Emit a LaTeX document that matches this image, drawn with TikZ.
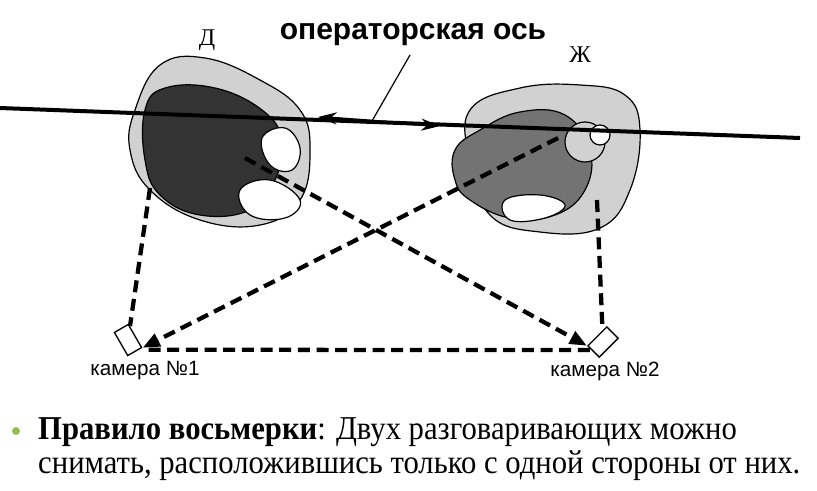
\documentclass[tikz,border=0pt]{standalone}
\usepackage{fontspec}
\setmainfont{Liberation Serif}
\setsansfont{Liberation Sans}
\usetikzlibrary{arrows.meta}
\definecolor{lgray}{gray}{0.82}
\definecolor{mgray}{gray}{0.45}
\definecolor{dgray}{gray}{0.2}
\definecolor{bulletgreen}{RGB}{150,190,80}
\tikzset{
  dash line/.style={line width=3.2pt, dash pattern=on 9pt off 5pt},
  blob/.style={draw=black, line width=0.9pt},
  cam/.style={draw=black, fill=white, line width=1pt, minimum width=20pt, minimum height=12pt, inner sep=0pt},
  caplabel/.style={font=\sffamily\fontsize{15.5}{18}\selectfont},
}
\begin{document}
\begin{tikzpicture}[x=0.75pt,y=-0.75pt]
\useasboundingbox (0,0) rectangle (817,490);
\fill[white] (0,0) rectangle (817,490);
% person D
\draw[blob, fill=lgray] plot[smooth cycle, tension=0.7] coordinates {(135,110) (160,65) (205,58) (260,80) (300,110) (310,150) (300,200) (260,225) (200,220) (150,190) (130,150)};
\draw[blob, fill=dgray] plot[smooth cycle, tension=0.7] coordinates {(145,110) (165,88) (215,88) (262,110) (282,140) (275,180) (250,210) (200,215) (160,195) (145,160)};
\draw[blob, fill=white] plot[smooth cycle, tension=0.7] coordinates {(262,138) (285,128) (300,148) (292,170) (270,165)};
\draw[blob, fill=white] plot[smooth cycle, tension=0.7] coordinates {(240,190) (270,180) (300,200) (285,218) (250,215)};
% person Zh
\draw[blob, fill=lgray] plot[smooth cycle, tension=0.7] coordinates {(470,110) (520,88) (580,85) (625,95) (640,130) (630,190) (600,228) (540,232) (490,215) (470,160)};
\draw[blob, fill=mgray] plot[smooth cycle, tension=0.7] coordinates {(455,150) (480,130) (520,112) (565,115) (590,150) (585,190) (555,215) (510,218) (470,200) (455,180)};
\draw[blob, fill=lgray] (585,142) circle (20);
\draw[blob, fill=white] (600,135) circle (10);
\draw[blob, fill=white] plot[smooth cycle, tension=0.7] coordinates {(505,200) (540,195) (565,205) (545,218) (510,220)};
% cameras
\node[cam, rotate=-60] (c1) at (128,340) {};
\node[cam, rotate=45] (c2) at (603,342) {};
\coordinate (d1) at (150,188);
\coordinate (d2) at (245,158);
\coordinate (z1) at (597,200);
\coordinate (z2) at (558,138);
% dashed lines
\draw[dash line] (d1) -- (c1);
\draw[dash line] (z1) -- (c2);
\draw[dash line] (c1.north east) ++(6,2) -- (590,350);
\draw[dash line, -{Triangle[length=13pt,width=10pt]}] (d2) -- (c2.north west);
\draw[dash line, -{Triangle[length=13pt,width=10pt]}] (z2) -- (c1.north east);
% axis
\draw[line width=3pt] (0,108) -- (800,138);
\coordinate (a1) at (318,117);
\coordinate (a2) at (440,126);
\draw[line width=2pt, {Stealth[length=14pt,width=9pt]}-{Stealth[length=14pt,width=9pt]}] (a1) -- (a2);
\node[font=\sffamily\bfseries\fontsize{22.5}{26}\selectfont] (ttl) at (413,35) {операторская ось};
\coordinate (lead) at (372,121);
\draw[line width=0.9pt] (lead) -- (410,55);
\node[font=\fontsize{18}{20}\selectfont] (D) at (207,40) {Д};
\node[font=\fontsize{18}{20}\selectfont] (Zh) at (580,55) {Ж};
\node[caplabel] (l1) at (145,371) {камера №1};
\node[caplabel] (l2) at (605,371) {камера №2};
% bullet text
\fill[bulletgreen] (16,431) circle (4);
\node[anchor=west, inner sep=0pt, xscale=0.92, font=\fontsize{25}{25}\selectfont, align=left] (txt) at (38,449) {\textbf{Правило восьмерки}: Двух разговаривающих можно\\снимать, расположившись только с одной стороны от них.};
\end{tikzpicture}
\end{document}
